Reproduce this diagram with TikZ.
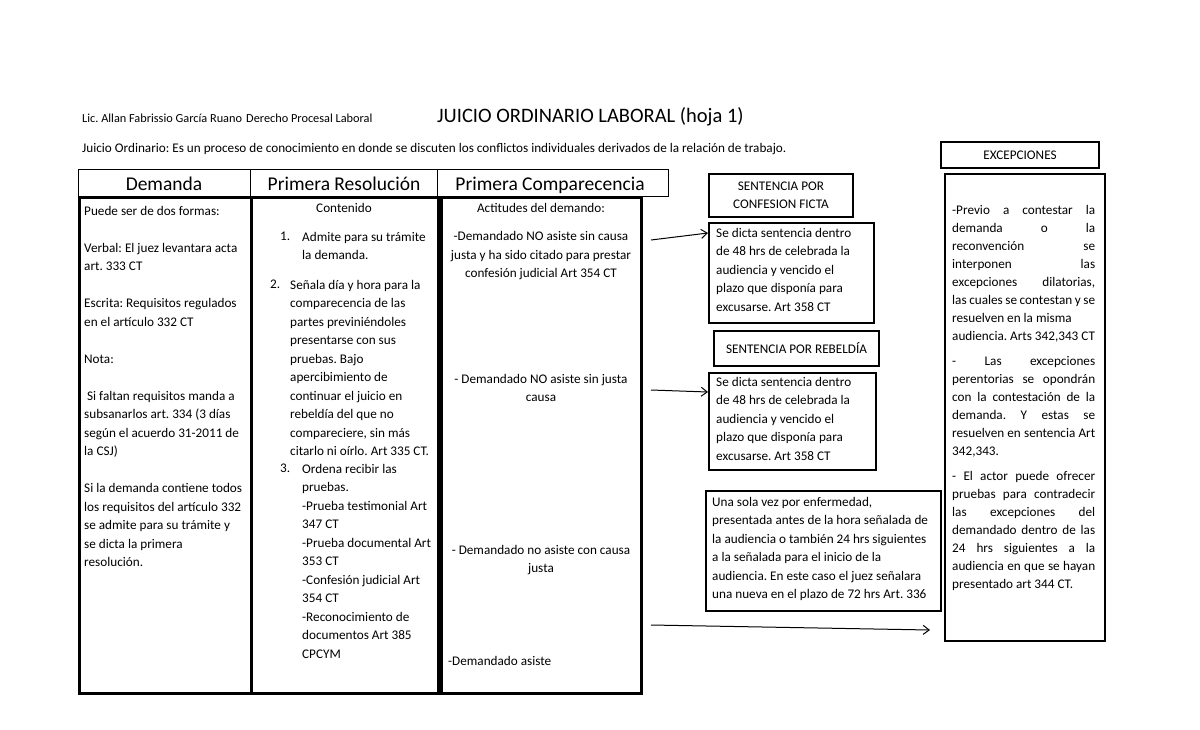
\documentclass[tikz,border=0pt]{standalone}
\usepackage{fontspec}
\setmainfont{Carlito}
\usetikzlibrary{arrows.meta}
\newcommand{\jl}[1]{\makebox[143pt][s]{#1}}
\begin{document}
\frenchspacing\hyphenpenalty=10000\exhyphenpenalty=10000
\begin{tikzpicture}[x=1pt,y=-1pt,
  txt/.style={inner sep=0pt,anchor=north west,font=\fontsize{13.2}{18.5}\selectfont,align=left},
  mid box/.style={draw,line width=2pt},
  thick box/.style={draw,line width=2.6pt},
  arr/.style={->,line width=1pt,>={Straight Barb[length=6pt,width=9pt]}}]
\useasboundingbox (0,0) rectangle (1200,729);
% header
\node[txt,anchor=base west,font=\fontsize{12.3}{14}\selectfont] (h1) at (82,122) {Lic. Allan Fabrissio García Ruano};
\node[txt,anchor=base west,font=\fontsize{12.3}{14}\selectfont] (h2) at (246,122) {Derecho Procesal Laboral};
\node[txt,anchor=base west,font=\fontsize{20.5}{22}\selectfont] (h3) at (437,122) {JUICIO ORDINARIO LABORAL (hoja 1)};
\node[txt,anchor=base west] (h4) at (82,152) {Juicio Ordinario: Es un proceso de conocimiento en donde se discuten los conflictos individuales derivados de la relación de trabajo.};
% header table
\draw[line width=0.8pt] (78,169) rectangle (668,196);
\draw[line width=0.8pt] (250,169) -- (250,196) (437,169) -- (437,196);
\node[font=\fontsize{19.5}{20}\selectfont,anchor=base] (t1) at (164,190) {Demanda};
\node[font=\fontsize{19.5}{20}\selectfont,anchor=base] (t2) at (344,190) {Primera Resolución};
\node[font=\fontsize{19.5}{20}\selectfont,anchor=base] (t3) at (550,190) {Primera Comparecencia};
% columns
\node[thick box,minimum width=172pt,minimum height=496pt,anchor=north west] (c1) at (78,196) {};
\node[thick box,minimum width=187pt,minimum height=496pt,anchor=north west] (c2) at (250,196) {};
\node[thick box,minimum width=200pt,minimum height=496pt,anchor=north west] (c3) at (440,196) {};
\node[txt] (c1t) at (84,206) {Puede ser de dos formas:\\[18.5pt]Verbal: El juez levantara acta\\art. 333 CT\\[18.5pt]Escrita: Requisitos regulados\\en el artículo 332 CT\\[18.5pt]Nota:\\[18.5pt]\ Si faltan requisitos manda a\\subsanarlos art. 334 (3 días\\según el acuerdo 31-2011 de\\la CSJ)\\[18.5pt]Si la demanda contiene todos\\los requisitos del artículo 332\\se admite para su trámite y\\se dicta la primera\\resolución.};
\node[txt,anchor=north] (c2h) at (344,203) {Contenido};
\node[txt] (n1) at (280,232) {1.};
\node[txt] (n2) at (270,280) {2.};
\node[txt] (n3) at (280,464) {3.};
\node[txt] (i1) at (302,232) {Admite para su trámite\\la demanda.};
\node[txt] (i2) at (290,280) {Señala día y hora para la\\comparecencia de las\\partes previniéndoles\\presentarse con sus\\pruebas. Bajo\\apercibimiento de\\continuar el juicio en\\rebeldía del que no\\compareciere, sin más\\citarlo ni oírlo. Art 335 CT.};
\node[txt] (i3) at (302,464) {Ordena recibir las\\pruebas.\\-Prueba testimonial Art\\347 CT\\-Prueba documental Art\\353 CT\\-Confesión judicial Art\\354 CT\\-Reconocimiento de\\documentos Art 385\\CPCYM};
\node[txt,anchor=north,align=center] (c3a) at (541,203) {Actitudes del demando:\\[10pt]-Demandado NO asiste sin causa\\justa y ha sido citado para prestar\\confesión judicial Art 354 CT};
\node[txt,anchor=north,align=center] (c3b) at (541,374) {- Demandado NO asiste sin justa\\causa};
\node[txt,anchor=north,align=center] (c3c) at (541,545) {- Demandado no asiste con causa\\justa};
\node[txt] (c3d) at (448,656) {-Demandado asiste};
% right side boxes
\node[mid box,minimum width=144pt,minimum height=43pt,anchor=north west,align=center,font=\fontsize{13.2}{18.5}\selectfont] (s1) at (708,173) {SENTENCIA POR\\CONFESION FICTA};
\node[mid box,minimum width=165pt,minimum height=100pt,anchor=north west] (b1) at (708,222) {};
\node[txt] (b1t) at (716,228) {Se dicta sentencia dentro\\de 48 hrs de celebrada la\\audiencia y vencido el\\plazo que disponía para\\excusarse. Art 358 CT};
\node[mid box,minimum width=165pt,minimum height=35pt,anchor=north west,font=\fontsize{13.2}{14}\selectfont] (s2) at (713,330) {SENTENCIA POR REBELDÍA};
\node[mid box,minimum width=167pt,minimum height=97pt,anchor=north west] (b2) at (708,372) {};
\node[txt] (b2t) at (716,377) {Se dicta sentencia dentro\\de 48 hrs de celebrada la\\audiencia y vencido el\\plazo que disponía para\\excusarse. Art 358 CT};
\node[mid box,minimum width=235pt,minimum height=120pt,anchor=north west] (b3) at (705,490) {};
\node[txt] (b3t) at (712,497) {Una sola vez por enfermedad,\\presentada antes de la hora señalada de\\la audiencia o también 24 hrs siguientes\\a la señalada para el inicio de la\\audiencia. En este caso el juez señalara\\una nueva en el plazo de 72 hrs Art. 336};
\node[mid box,minimum width=158pt,minimum height=26pt,anchor=north west,font=\fontsize{13.2}{14}\selectfont] (ex) at (940,141) {EXCEPCIONES};
\node[mid box,minimum width=160pt,minimum height=467pt,anchor=north west] (eb) at (944,173) {};
\node[txt,font=\fontsize{13.2}{18}\selectfont] (ebt) at (952,205) {\jl{-Previo a contestar la}\\\jl{demanda o la}\\\jl{reconvención se}\\\jl{interponen las}\\\jl{excepciones dilatorias,}\\\jl{las cuales se contestan y se}\\resuelven en la misma\\audiencia. Arts 342,343 CT\\[7pt]\jl{- Las excepciones}\\\jl{perentorias se opondrán}\\\jl{con la contestación de la}\\\jl{demanda. Y estas se}\\\jl{resuelven en sentencia Art}\\342,343.\\[7pt]\jl{- El actor puede ofrecer}\\\jl{pruebas para contradecir}\\\jl{las excepciones del}\\\jl{demandado dentro de las}\\\jl{24 hrs siguientes a la}\\\jl{audiencia en que se hayan}\\presentado art 344 CT.};
% arrows
\coordinate (a1) at (651,240);
\coordinate (a2) at (651,390);
\coordinate (a3) at (651,625);
\coordinate (a3e) at (930,630);
\draw[arr] (a1) -- (b1.west|-0,233);
\draw[arr] (a2) -- (b2.west|-0,392);
\draw[arr] (a3) -- (a3e);
\end{tikzpicture}
\end{document}
